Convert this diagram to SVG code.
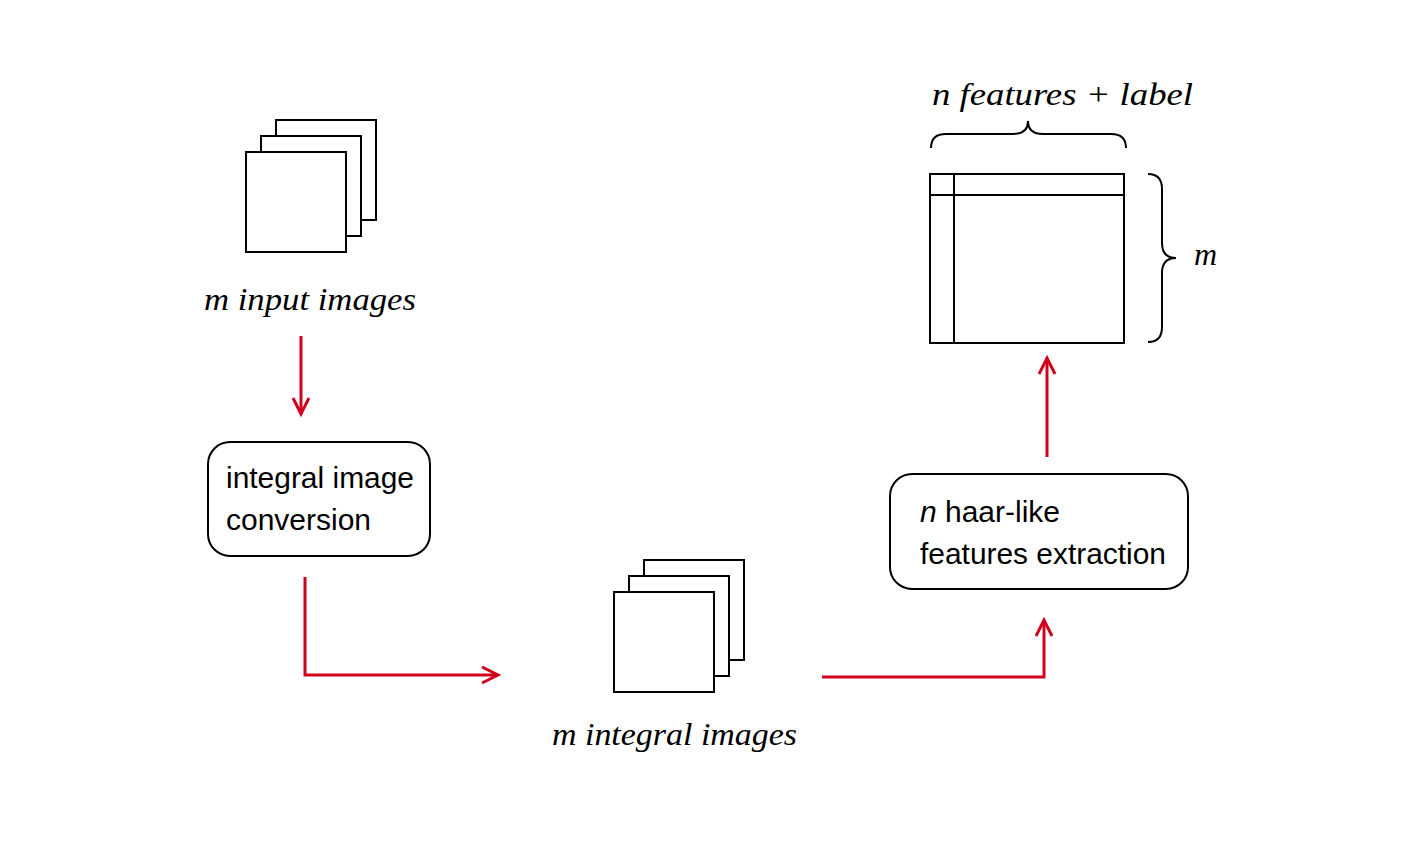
<svg xmlns="http://www.w3.org/2000/svg" width="1404" height="848" viewBox="0 0 1404 848">
<style>
.sq{fill:#fff;stroke:#000;stroke-width:2}
.bx{fill:#fff;stroke:#000;stroke-width:2}
.ln{fill:none;stroke:#000;stroke-width:2}
.ar{fill:none;stroke:#d0021b;stroke-width:3}
.it{font-family:"Liberation Serif",serif;font-style:italic;font-size:32px;fill:#000}
.tx{font-family:"Liberation Sans",Arial,sans-serif;font-size:29px;fill:#000}
</style>
<defs>
<marker id="ah" markerWidth="22" markerHeight="22" refX="17" refY="9" orient="auto" markerUnits="userSpaceOnUse">
<path d="M1,1 L17,9 L1,17" fill="none" stroke="#d0021b" stroke-width="3"/>
</marker>
</defs>
<rect width="1404" height="848" fill="#fff"/>
<g id="input-images">
<rect class="sq" x="276" y="120" width="100" height="100"/>
<rect class="sq" x="261" y="136" width="100" height="100"/>
<rect class="sq" x="246" y="152" width="100" height="100"/>
<text class="it" x="204" y="310" textLength="212" lengthAdjust="spacingAndGlyphs">m input images</text>
</g>
<g id="conversion">
<rect class="bx" x="208" y="442" width="222" height="114" rx="22"/>
<text class="tx" x="226" y="488" textLength="188" lengthAdjust="spacingAndGlyphs">integral image</text>
<text class="tx" x="226" y="530" textLength="145" lengthAdjust="spacingAndGlyphs">conversion</text>
</g>
<g id="integral-images">
<rect class="sq" x="644" y="560" width="100" height="100"/>
<rect class="sq" x="629" y="576" width="100" height="100"/>
<rect class="sq" x="614" y="592" width="100" height="100"/>
<text class="it" x="552" y="745" textLength="245" lengthAdjust="spacingAndGlyphs">m integral images</text>
</g>
<g id="extraction">
<rect class="bx" x="890" y="474" width="298" height="115" rx="22"/>
<text class="tx" x="920" y="522" textLength="140" lengthAdjust="spacingAndGlyphs"><tspan font-style="italic">n</tspan> haar-like</text>
<text class="tx" x="920" y="564" textLength="246" lengthAdjust="spacingAndGlyphs">features extraction</text>
</g>
<g id="table">
<rect class="ln" x="930" y="174" width="194" height="169"/>
<line class="ln" x1="930" y1="195" x2="1124" y2="195"/>
<line class="ln" x1="954" y1="174" x2="954" y2="343"/>
<path class="ln" d="M931,148 Q931,134 946,134 L1013,134 Q1028,134 1028,121 Q1028,134 1043,134 L1111,134 Q1126,134 1126,148"/>
<path class="ln" d="M1148,174 Q1162,174 1162,189 L1162,243 Q1162,258 1176,258 Q1162,258 1162,273 L1162,327 Q1162,342 1148,342"/>
<text class="it" x="932" y="105" textLength="261" lengthAdjust="spacingAndGlyphs">n features + label</text>
<text class="it" x="1194" y="265">m</text>
</g>
<g id="connectors">
<line class="ar" x1="301" y1="336" x2="301" y2="414" marker-end="url(#ah)"/>
<polyline class="ar" points="305,577 305,675 498,675" marker-end="url(#ah)"/>
<polyline class="ar" points="822,677 1044,677 1044,620" marker-end="url(#ah)"/>
<line class="ar" x1="1047" y1="457" x2="1047" y2="358" marker-end="url(#ah)"/>
</g>
</svg>
